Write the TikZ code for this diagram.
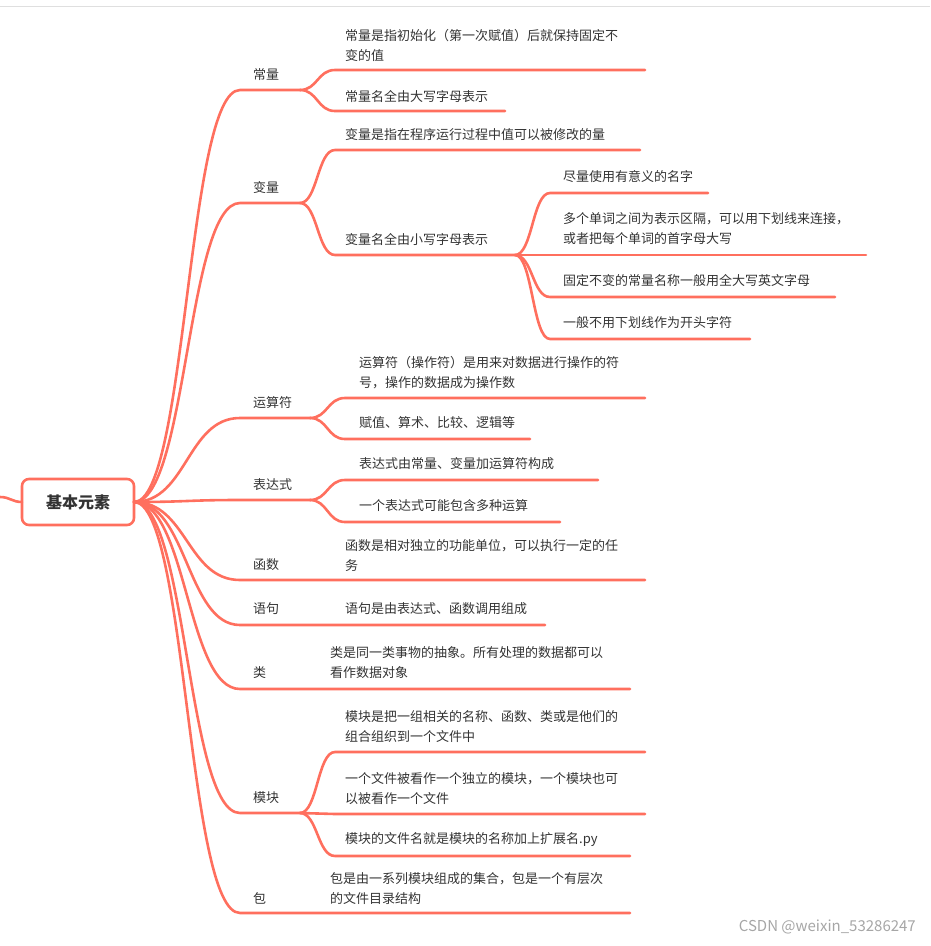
\documentclass[tikz,border=0pt]{standalone}
\usepackage{fontspec}
\setmainfont{Noto Sans CJK SC}
\definecolor{br}{HTML}{FF6F5E}
\definecolor{tx}{HTML}{333333}
\tikzset{conn/.style={draw=br,line width=2.6pt,line cap=round},
 lbl/.style={anchor=west,inner sep=0pt,text=tx,font=\fontsize{13}{20}\selectfont,align=left}}
\newcommand{\brc}[5]{\draw[conn] (#1,#2) .. controls ({(#1+#3)/2},#2) and ({(#1+#3)/2},#4) .. (#3,#4) -- (#5,#4);}
\begin{document}
\begin{tikzpicture}[x=1pt,y=-1pt]
\useasboundingbox (0,0) rectangle (930,946);
\draw[gray!25,line width=1pt] (0,6) -- (930,6);
% root
\draw[conn] (0,497) .. controls (10,497) and (12,502) .. (22,502);
\node[draw=br,line width=2.6pt,rounded corners=7pt,minimum width=112pt,minimum height=46pt,text=tx,font=\fontsize{16}{16}\selectfont\bfseries] (root) at (78,502) {基本元素};
% level 1
\brc{134}{502}{240}{90}{300}
\brc{134}{502}{240}{203}{300}
\brc{134}{502}{240}{418}{310}
\brc{134}{502}{240}{500}{310}
\brc{134}{502}{240}{580}{645}
\brc{134}{502}{240}{625}{545}
\brc{134}{502}{240}{689}{630}
\brc{134}{502}{240}{813}{300}
\brc{134}{502}{240}{913}{630}
\node[lbl] (l1) at (253,75) {常量};
\node[lbl] (l2) at (253,188) {变量};
\node[lbl] (l3) at (253,403) {运算符};
\node[lbl] (l4) at (253,485) {表达式};
\node[lbl] (l5) at (253,565) {函数};
\node[lbl] (l6) at (253,609) {语句};
\node[lbl] (l7) at (253,673) {类};
\node[lbl] (l8) at (253,798) {模块};
\node[lbl] (l9) at (253,898) {包};
% 常量
\brc{300}{90}{335}{70}{645}
\brc{300}{90}{335}{111}{505}
\node[lbl] at (345,45) {常量是指初始化（第一次赋值）后就保持固定不\\变的值};
\node[lbl] at (345,96) {常量名全由大写字母表示};
% 变量
\brc{300}{203}{335}{150}{640}
\brc{300}{203}{335}{255}{515}
\node[lbl] at (345,135) {变量是指在程序运行过程中值可以被修改的量};
\node[lbl] at (345,239) {变量名全由小写字母表示};
\brc{515}{255}{550}{193}{708}
\brc{515}{255}{550}{255}{866}
\brc{515}{255}{550}{297}{835}
\brc{515}{255}{550}{339}{750}
\node[lbl] at (563,177) {尽量使用有意义的名字};
\node[lbl] at (563,229) {多个单词之间为表示区隔，可以用下划线来连接，\\或者把每个单词的首字母大写};
\node[lbl] at (563,281) {固定不变的常量名称一般用全大写英文字母};
\node[lbl] at (563,323) {一般不用下划线作为开头字符};
% 运算符
\brc{310}{418}{345}{398}{645}
\brc{310}{418}{345}{439}{530}
\node[lbl] at (359,373) {运算符（操作符）是用来对数据进行操作的符\\号，操作的数据成为操作数};
\node[lbl] at (359,423) {赋值、算术、比较、逻辑等};
% 表达式
\brc{310}{500}{345}{480}{598}
\brc{310}{500}{345}{522}{560}
\node[lbl] at (359,464) {表达式由常量、变量加运算符构成};
\node[lbl] at (359,506) {一个表达式可能包含多种运算};
% singles
\node[lbl] at (345,555) {函数是相对独立的功能单位，可以执行一定的任\\务};
\node[lbl] at (345,609) {语句是由表达式、函数调用组成};
\node[lbl] at (330,663) {类是同一类事物的抽象。所有处理的数据都可以\\看作数据对象};
% 模块
\brc{300}{813}{335}{752}{645}
\brc{300}{813}{335}{814}{645}
\brc{300}{813}{335}{856}{630}
\node[lbl] at (345,727) {模块是把一组相关的名称、函数、类或是他们的\\组合组织到一个文件中};
\node[lbl] at (345,789) {一个文件被看作一个独立的模块，一个模块也可\\以被看作一个文件};
\node[lbl] at (345,840) {模块的文件名就是模块的名称加上扩展名.py};
\node[lbl] at (330,889) {包是由一系列模块组成的集合，包是一个有层次\\的文件目录结构};
\node[anchor=east,inner sep=0pt,text=gray!70,font=\fontsize{15}{15}\selectfont] (wm) at (916,927) {CSDN @weixin\_53286247};
\end{tikzpicture}
\end{document}
